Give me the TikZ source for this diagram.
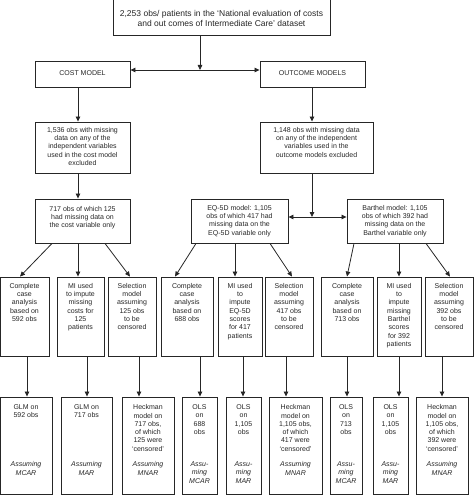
\documentclass[tikz,border=0pt]{standalone}
\usepackage{fontspec}
\setmainfont{Liberation Sans}
\usetikzlibrary{arrows.meta,fit}
\tikzset{
  box/.style={draw=black!85, line width=0.9pt, inner sep=0pt},
  txt/.style={align=center, inner sep=0pt, text=black!85, font=\fontsize{7}{8.3}\selectfont},
  bigtxt/.style={align=center, inner sep=0pt, text=black!85, font=\fontsize{8.5}{10}\selectfont},
  asm/.style={align=center, inner sep=0pt, text=black!85, font=\fontsize{7}{8.3}\selectfont\itshape},
  arr/.style={draw=black!85, line width=0.8pt, -{Triangle[length=5pt,width=4.5pt]}},
}
\newcommand\flowbx[7]{%
  \node[box, fit={(#2,#3) (#4,#5)}] (#1) {};
  \node[txt, anchor=north] (#1-t) at ({(#2+#4)/2},#6) {#7};
}
\newcommand\botbx[5]{%
  \flowbx{#1}{#2}{397}{#3}{494}{404.5}{#4}
  \node[asm, anchor=north] (#1-a) at ({(#2+#3)/2},461.5) {#5};
}
\begin{document}
\begin{tikzpicture}[x=1pt,y=-1pt]
\useasboundingbox (0,0) rectangle (474,495);

% top
\node[box, fit={(113,-2) (330,35)}] (top) {};
\node[bigtxt, anchor=north] (top-t) at (221.5,10.5) {2,253 obs/ patients in the ‘National evaluation of costs\\and out comes of Intermediate Care’ dataset};

% level 2
\flowbx{cost}{35}{61}{130}{87}{70.5}{COST MODEL}
\flowbx{outc}{260}{61}{365}{87}{70.5}{OUTCOME MODELS}

% level 3
\flowbx{costmiss}{35}{122}{130}{173}{127}{1,536 obs with missing\\data on any of the\\independent variables\\used in the cost model\\excluded}
\flowbx{outmiss}{260}{122}{373}{173}{127}{1,148 obs with missing data\\on any of the independent\\variables used in the\\outcome models excluded}

% level 4
\flowbx{c717}{35}{199}{130}{243}{206}{717 obs of which 125\\had missing data on\\the cost variable only}
\flowbx{eq}{191}{199}{288}{243}{205}{EQ-5D model: 1,105\\obs of which 417 had\\missing data on the\\EQ-5D variable only}
\flowbx{bar}{347}{199}{443}{243}{205}{Barthel model: 1,105\\obs of which 392 had\\missing data on the\\Barthel variable only}

% level 5
\flowbx{r1}{0}{277}{49}{356}{283}{Complete\\case\\analysis\\based on\\592 obs}
\flowbx{r2}{57}{277}{104}{356}{283}{MI used\\to impute\\missing\\costs for\\125\\patients}
\flowbx{r3}{108}{277}{156}{356}{283}{Selection\\model\\assuming\\125 obs\\to be\\censored}
\flowbx{r4}{161}{277}{213}{356}{283}{Complete\\case\\analysis\\based on\\688 obs}
\flowbx{r5}{218}{277}{262}{356}{283}{MI used\\to\\impute\\EQ-5D\\scores\\for 417\\patients}
\flowbx{r6}{265}{277}{313}{356}{283}{Selection\\model\\assuming\\417 obs\\to be\\censored}
\flowbx{r7}{321}{277}{373}{356}{283}{Complete\\case\\analysis\\based on\\713 obs}
\flowbx{r8}{377}{277}{421}{356}{283}{MI used\\to\\impute\\missing\\Barthel\\scores\\for 392\\patients}
\flowbx{r9}{425}{277}{473}{356}{283}{Selection\\model\\assuming\\392 obs\\to be\\censored}

% level 6
\botbx{b1}{0}{52}{GLM on\\592 obs}{Assuming\\MCAR}
\botbx{b2}{61}{112}{GLM on\\717 obs}{Assuming\\MAR}
\botbx{b3}{122}{174}{Heckman\\model on\\717 obs,\\of which\\125 were\\‘censored’}{Assuming\\MNAR}
\botbx{b4}{182}{217}{OLS\\on\\688\\obs}{Assu-\\ming\\MCAR}
\botbx{b5}{226}{261}{OLS\\on\\1,105\\obs}{Assu-\\ming\\MAR}
\botbx{b6}{269}{322}{Heckman\\model on\\1,105 obs,\\of which\\417 were\\‘censored’}{Assuming\\MNAR}
\botbx{b7}{330}{362}{OLS\\on\\713\\obs}{Assu-\\ming\\MCAR}
\botbx{b8}{373}{408}{OLS\\on\\1,105\\obs}{Assu-\\ming\\MAR}
\botbx{b9}{416}{468}{Heckman\\model on\\1,105 obs,\\of which\\392 were\\‘censored’}{Assuming\\MNAR}

% connectors
\coordinate (j1) at (200,70);
\draw[arr] (top.south -| j1) -- (j1);
\draw[arr] (j1) -- (j1 -| cost.east);
\draw[arr] (j1) -- (j1 -| outc.west);

\draw[arr] (cost.south -| 78,0) -- (costmiss.north -| 78,0);
\draw[arr] (costmiss.south -| 78,0) -- (c717.north -| 78,0);
\draw[arr] (outc.south -| 312,0) -- (outmiss.north -| 312,0);

\coordinate (j2) at (312,217);
\draw[arr] (outmiss.south -| j2) -- (j2);
\draw[arr] (j2) -- (j2 -| eq.east);
\draw[arr] (j2) -- (j2 -| bar.west);

\draw[arr] (c717.south -| 52,0) -- (r1.north -| 20,0);
\draw[arr] (c717.south -| 78,0) -- (r2.north -| 78,0);
\draw[arr] (c717.south -| 105,0) -- (r3.north -| 130,0);

\draw[arr] (eq.south -| 196,0) -- (r4.north -| 175,0);
\draw[arr] (eq.south -| 235,0) -- (r5.north -| 235,0);
\draw[arr] (eq.south -| 270,0) -- (r6.north -| 292,0);

\draw[arr] (bar.south -| 354,0) -- (r7.north -| 347,0);
\draw[arr] (bar.south -| 399,0) -- (r8.north -| 399,0);
\draw[arr] (bar.south -| 426,0) -- (r9.north -| 450,0);

\draw[arr] (r1.south -| 27,0) -- (b1.north -| 27,0);
\draw[arr] (r2.south -| 87,0) -- (b2.north -| 87,0);
\draw[arr] (r3.south -| 139,0) -- (b3.north -| 139,0);
\draw[arr] (r4.south -| 200,0) -- (b4.north -| 200,0);
\draw[arr] (r5.south -| 243,0) -- (b5.north -| 243,0);
\draw[arr] (r6.south -| 286,0) -- (b6.north -| 286,0);
\draw[arr] (r7.south -| 347,0) -- (b7.north -| 347,0);
\draw[arr] (r8.south -| 399,0) -- (b8.north -| 399,0);
\draw[arr] (r9.south -| 442,0) -- (b9.north -| 442,0);
\end{tikzpicture}
\end{document}
